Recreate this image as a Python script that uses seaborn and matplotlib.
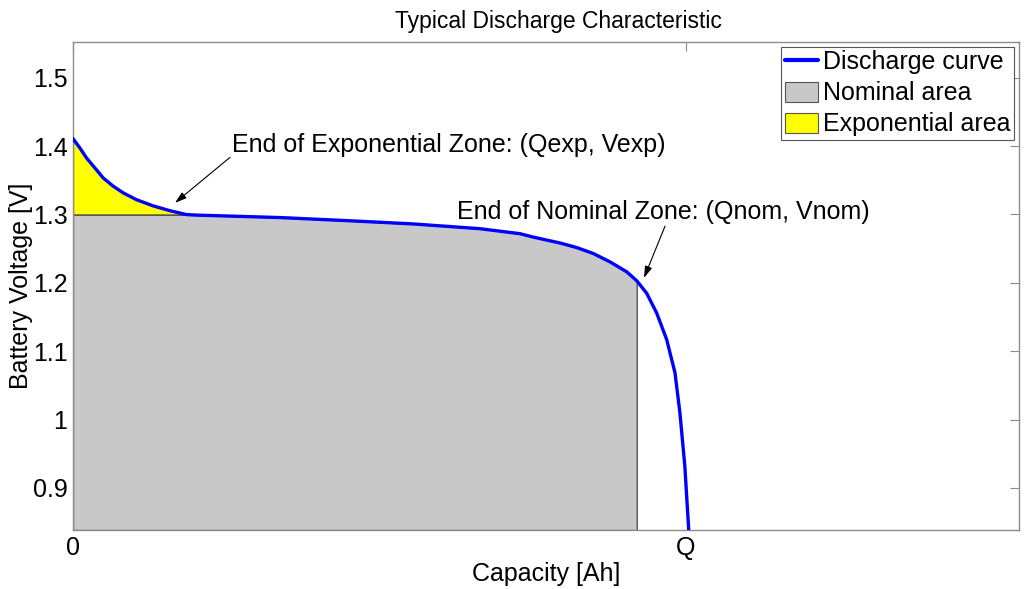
import numpy as np
import pandas as pd
import seaborn as sns
import matplotlib.pyplot as plt
from matplotlib.patches import Patch
from matplotlib.lines import Line2D

# discharge curve, capacity as fraction of Q
capacity = [0.0, 0.0016, 0.0114, 0.0223, 0.0359, 0.0494, 0.0657, 0.0821, 0.1039,
            0.131, 0.1582, 0.1855, 0.2044, 0.2284, 0.3377, 0.447, 0.5546, 0.664,
            0.7292, 0.7504, 0.7945, 0.8217, 0.8488, 0.876, 0.9033, 0.9196, 0.9359,
            0.9522, 0.9685, 0.982, 0.990, 0.998, 1.005]
voltage = [1.411, 1.409, 1.397, 1.3824, 1.3679, 1.3533, 1.3413, 1.3315, 1.3215,
           1.3125, 1.3055, 1.2998, 1.2990, 1.2984, 1.2955, 1.2910, 1.2862, 1.2792,
           1.2719, 1.267, 1.2583, 1.2516, 1.2429, 1.2307, 1.2161, 1.2031, 1.1847,
           1.1557, 1.1169, 1.0685, 1.0103, 0.9327, 0.83]

v_exp = 1.300
q_nom = 0.9196
y_ticks = [0.9, 1.0, 1.1, 1.2, 1.3, 1.4, 1.5]
y_tick_labels = ['0.9', '1', '1.1', '1.2', '1.3', '1.4', '1.5']
x_ticks = [0, 1.0]
x_tick_labels = ['0', 'Q']

df = pd.DataFrame({'capacity': capacity, 'voltage': voltage})

sns.set_style('white')
plt.rcParams['font.family'] = ['Liberation Sans', 'DejaVu Sans']
plt.rcParams['text.color'] = 'black'
plt.rcParams['axes.labelcolor'] = 'black'

fig = plt.figure(figsize=(10.24, 5.89), dpi=100)
ax = fig.add_axes([0.0713, 0.1002, 0.9237, 0.8293])

y_low, y_high = 0.8385, 1.553
frame = '#8c8c8c'

# nominal (gray) area under the curve, capped at Vexp
nom = df[df['capacity'] <= q_nom]
ax.fill_between(nom['capacity'], y_low, np.minimum(nom['voltage'], v_exp),
                facecolor='#c8c8c8', edgecolor='#444444', linewidth=0.9, zorder=1)

# exponential (yellow) area above Vexp
ax.fill_between(df['capacity'], v_exp, df['voltage'], where=df['voltage'] >= v_exp,
                interpolate=True, facecolor='#ffff00', edgecolor='#444444',
                linewidth=0.9, zorder=2)

sns.lineplot(data=df, x='capacity', y='voltage', color='#0000ff', linewidth=2.4,
             sort=False, ax=ax, zorder=3)

ax.set_xlim(0, 1.543)
ax.set_ylim(y_low, y_high)
ax.set_xticks(x_ticks)
ax.set_xticklabels(x_tick_labels)
ax.set_yticks(y_ticks)
ax.set_yticklabels(y_tick_labels)
ax.tick_params(direction='in', length=6.5, width=0.8, color=frame, labelcolor='black',
               top=True, right=True, labelsize=18, pad=4)
for s in ax.spines.values():
    s.set_color(frame)
    s.set_linewidth(1.0)

ax.set_title('Typical Discharge Characteristic', fontsize=16.5, pad=10, x=0.513)
ax.set_xlabel('Capacity [Ah]', fontsize=18, labelpad=2)
ax.set_ylabel('Battery Voltage [V]', fontsize=18, labelpad=0)

arrow = dict(arrowstyle='-|>,head_length=0.7,head_width=0.22', color='black',
             linewidth=0.8, shrinkA=0, shrinkB=0)
ax.annotate('', xy=(0.1664, 1.317), xytext=(0.256, 1.3835), arrowprops=arrow)
ax.text(0.2594, 1.401, 'End of Exponential Zone: (Qexp, Vexp)', fontsize=18,
        va='center', ha='left')
ax.annotate('', xy=(0.9315, 1.2073), xytext=(0.9657, 1.2829), arrowprops=arrow)
ax.text(0.6264, 1.303, 'End of Nominal Zone: (Qnom, Vnom)', fontsize=18,
        va='center', ha='left')

handles = [Line2D([], [], color='#0000ff', linewidth=3),
           Patch(facecolor='#c8c8c8', edgecolor='#555555', linewidth=0.8),
           Patch(facecolor='#ffff00', edgecolor='#555555', linewidth=0.8)]
labels = ['Discharge curve', 'Nominal area', 'Exponential area']
leg = ax.legend(handles, labels, loc='upper right', fontsize=18, frameon=True,
                fancybox=False, framealpha=1, edgecolor='#555555',
                handlelength=1.3, handleheight=0.85, handletextpad=0.2,
                labelspacing=0.28, borderpad=0.15, borderaxespad=0.2)
leg.get_frame().set_linewidth(0.8)

fig.savefig('out.png', dpi=100)
